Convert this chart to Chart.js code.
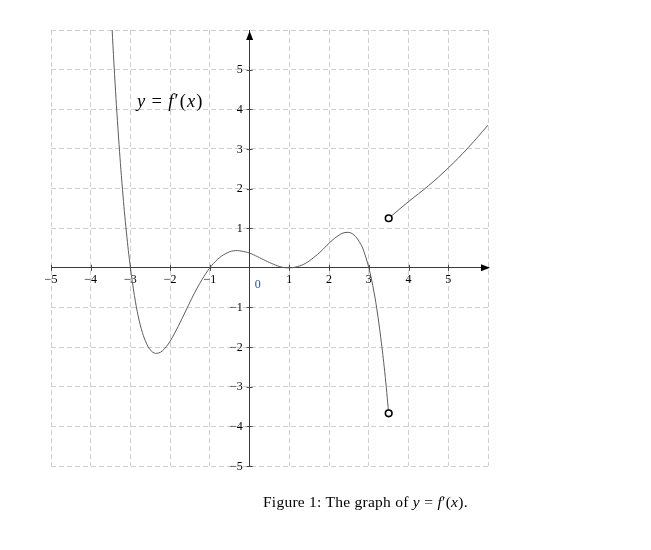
<!DOCTYPE html>
<html>
<head>
<meta charset="utf-8">
<script src="https://cdn.jsdelivr.net/npm/chart.js@4.4.0/dist/chart.umd.min.js"></script>
<style>
  html, body { margin: 0; padding: 0; background: #fff; }
  #wrap { position: relative; width: 651px; height: 550px; }
  canvas { position: absolute; left: 0; top: 0; }
  .math { position: absolute; font-family: "Liberation Serif", "DejaVu Serif", serif; color: #000; white-space: nowrap; line-height: 1; }
  .math i { font-style: italic; }
  .eq { display: inline-block; margin: 0 0.28em; font-style: normal; }
  #flabel { left: 137px; top: 92px; font-size: 18.5px; letter-spacing: 0.06em; }
  #caption { left: 263px; top: 494px; font-size: 15.5px; letter-spacing: 0.25px; }
</style>
</head>
<body>
<div id="wrap">
  <canvas id="c" width="651" height="550"></canvas>
  <div id="flabel" class="math"><i>y</i><span class="eq">=</span><i>f</i>′(<i>x</i>)</div>
  <div id="caption" class="math">Figure 1: The graph of <i>y</i><span class="eq">=</span><i>f</i>′(<i>x</i>).</div>
</div>
<script>
// ---- data ----
const leftX = [-3.5, -3.4, -3.3, -3.2, -3.1, -3.0, -2.9, -2.8, -2.7, -2.6, -2.5, -2.4, -2.3, -2.2, -2.1, -2.0,
               -1.8, -1.6, -1.4, -1.2, -1.0, -0.8, -0.6, -0.4, -0.2, 0.0, 0.2, 0.4, 0.6, 0.8, 1.0,
               1.2, 1.4, 1.6, 1.8, 2.0, 2.2, 2.4, 2.6, 2.8, 2.9, 3.0, 3.1, 3.2, 3.3, 3.4, 3.5];
const leftY = [6.75, 4.88, 3.30, 1.97, 0.88, 0.00, -0.70, -1.24, -1.63, -1.90, -2.07, -2.15, -2.15, -2.10, -1.99, -1.85,
               -1.48, -1.07, -0.66, -0.30, 0.00, 0.22, 0.36, 0.43, 0.42, 0.37, 0.28, 0.18, 0.09, 0.02, 0.00,
               0.03, 0.11, 0.25, 0.42, 0.62, 0.79, 0.89, 0.85, 0.59, 0.34, 0.00, -0.45, -1.03, -1.76, -2.62, -3.67];
const rightX = [3.5, 4.0, 4.5, 5.0, 5.5, 6.0];
const rightY = [1.25, 1.67, 2.07, 2.52, 3.03, 3.60];
const openX = [3.5, 3.5];
const openY = [-3.67, 1.25];
const xTickLabels = ['−5', '−4', '−3', '−2', '−1', '', '1', '2', '3', '4', '5', ''];
const yTickLabels = ['−5', '−4', '−3', '−2', '−1', '', '1', '2', '3', '4', '5', ''];
const originLabel = '0';

const pts = (xs, ys) => xs.map((x, i) => ({ x: x, y: ys[i] }));

const AXIS_COLOR = '#3a3a3a';
const FONT_FAMILY = '"Liberation Serif", "DejaVu Serif", serif';
const tickFont = { family: FONT_FAMILY, size: 12 };

const axesDecor = {
  id: 'axesDecor',
  beforeDatasetsDraw(chart) {
    const ctx = chart.ctx;
    const xs = chart.scales.x, ys = chart.scales.y;
    const ax = xs.getPixelForValue(0);
    const ay = ys.getPixelForValue(0);
    ctx.save();
    ctx.strokeStyle = AXIS_COLOR;
    ctx.lineWidth = 0.9;
    // tick crosses
    xs.ticks.forEach((t, i) => {
      if (xTickLabels[i] === '') return;
      const px = Math.round(xs.getPixelForValue(t.value)) + 0.5;
      ctx.beginPath(); ctx.moveTo(px, ay - 3); ctx.lineTo(px, ay + 3); ctx.stroke();
    });
    ys.ticks.forEach((t, i) => {
      if (yTickLabels[i] === '') return;
      const py = Math.round(ys.getPixelForValue(t.value)) + 0.5;
      ctx.beginPath(); ctx.moveTo(ax - 3, py); ctx.lineTo(ax + 3, py); ctx.stroke();
    });
    // y tick labels, right-aligned left of the vertical axis
    ctx.fillStyle = '#000';
    ctx.font = tickFont.size + 'px ' + FONT_FAMILY;
    ctx.textAlign = 'right';
    ctx.textBaseline = 'middle';
    ys.ticks.forEach((t, i) => {
      if (yTickLabels[i] === '') return;
      ctx.fillText(yTickLabels[i], ax - 7, ys.getPixelForValue(t.value) + 0.5);
    });
    // arrows
    ctx.fillStyle = '#000';
    const r = xs.right + 2;
    ctx.beginPath(); ctx.moveTo(r, ay); ctx.lineTo(r - 9, ay - 3.5); ctx.lineTo(r - 9, ay + 3.5); ctx.closePath(); ctx.fill();
    const t = ys.top + 1;
    ctx.beginPath(); ctx.moveTo(ax, t); ctx.lineTo(ax - 3.5, t + 9); ctx.lineTo(ax + 3.5, t + 9); ctx.closePath(); ctx.fill();
    // origin label
    ctx.fillStyle = '#1f4f9e';
    ctx.textAlign = 'center';
    ctx.fillText(originLabel, ax + 8, ay + 17);
    ctx.restore();
  }
};

new Chart(document.getElementById('c'), {
  type: 'scatter',
  data: {
    datasets: [
      {
        data: pts(openX, openY),
        showLine: false,
        pointRadius: 3.3,
        pointHoverRadius: 3.3,
        pointBackgroundColor: '#fff',
        pointBorderColor: '#000',
        pointBorderWidth: 1.6
      },
      {
        data: pts(leftX, leftY),
        showLine: true,
        borderColor: '#5c5c5c',
        borderWidth: 1,
        pointRadius: 0,
        tension: 0.4,
        fill: false
      },
      {
        data: pts(rightX, rightY),
        showLine: true,
        borderColor: '#5c5c5c',
        borderWidth: 1,
        pointRadius: 0,
        tension: 0.4,
        fill: false
      }
    ]
  },
  options: {
    responsive: false,
    animation: false,
    events: [],
    layout: { padding: { left: 51, top: 30, right: 163, bottom: 84 } },
    plugins: { legend: { display: false }, tooltip: { enabled: false }, title: { display: false } },
    scales: {
      x: {
        type: 'linear',
        min: -5, max: 6,
        position: { y: 0 },
        afterFit: s => { s.height = 0; },
        ticks: {
          stepSize: 1,
          autoSkip: false,
          maxRotation: 0,
          padding: 5,
          color: '#000',
          font: tickFont,
          callback: (v, i) => xTickLabels[i]
        },
        grid: { color: '#cfcfcf', lineWidth: 1, drawTicks: false },
        border: { display: true, color: AXIS_COLOR, width: 1, dash: [5, 3] }
      },
      y: {
        type: 'linear',
        min: -5, max: 6,
        position: { x: 0 },
        afterFit: s => { s.width = 0; },
        ticks: {
          stepSize: 1,
          autoSkip: false,
          padding: 7,
          color: 'rgba(0,0,0,0)',
          font: tickFont,
          callback: (v, i) => yTickLabels[i]
        },
        grid: { color: '#cfcfcf', lineWidth: 1, drawTicks: false },
        border: { display: true, color: AXIS_COLOR, width: 1, dash: [5, 3] }
      }
    }
  },
  plugins: [axesDecor]
});
</script>
</body>
</html>
